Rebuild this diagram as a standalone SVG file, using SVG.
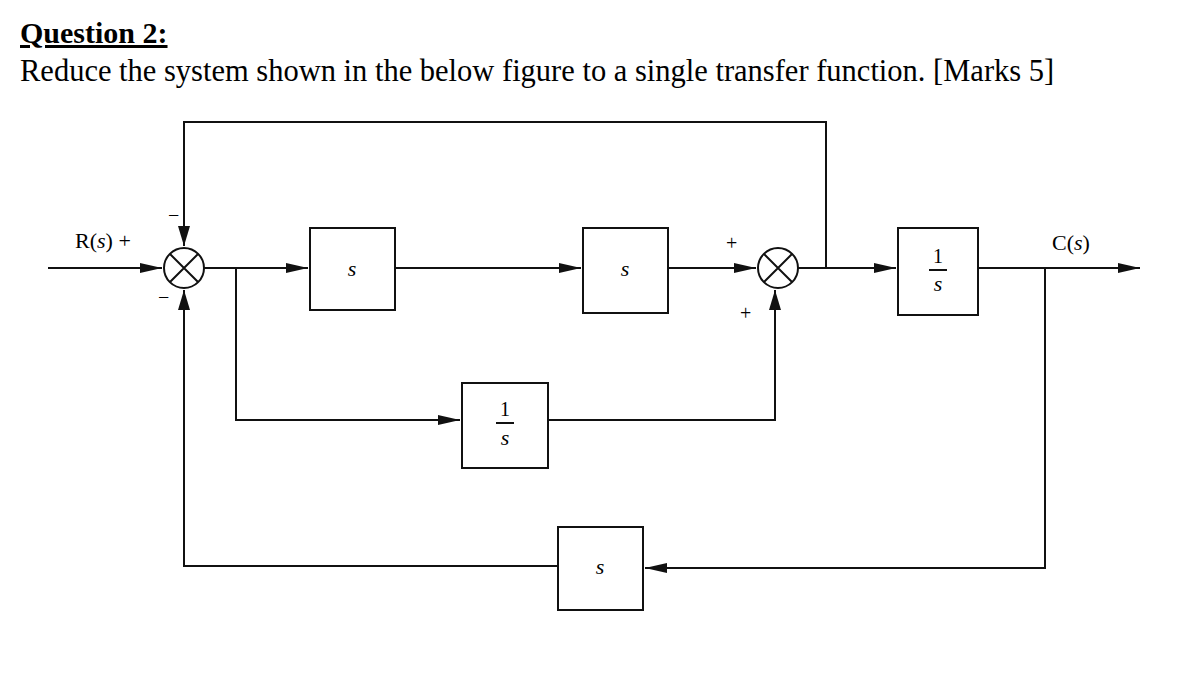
<svg xmlns="http://www.w3.org/2000/svg" width="1188" height="680" viewBox="0 0 1188 680">
<style>
text{font-family:"Liberation Serif",serif;fill:#000}
.b{fill:#fff;stroke:#111;stroke-width:2}
.l{fill:none;stroke:#111;stroke-width:2}
.v{font-style:italic;font-size:22px}
.s{font-size:20px}
</style>
<defs><marker id="a" markerWidth="20" markerHeight="12" refX="20" refY="6" orient="auto" markerUnits="userSpaceOnUse" viewBox="0 0 20 12"><path d="M0,0 L20,6 L0,12 Z" fill="#111"/></marker>
<marker id="A" markerWidth="22" markerHeight="10" refX="22" refY="5" orient="auto" markerUnits="userSpaceOnUse" viewBox="0 0 22 10"><path d="M0,0 L22,5 L0,10 Z" fill="#111"/></marker></defs>
<rect width="1188" height="680" fill="#fff"/>
<text x="20" y="43" font-size="30" font-weight="bold" text-decoration="underline">Question 2:</text>
<text x="20" y="81" font-size="30.5">Reduce the system shown in the below figure to a single transfer function. [Marks 5]</text>
<g id="connectors">
<path class="l" d="M48,268 H162" marker-end="url(#A)"/>
<path class="l" d="M204,268 H308" marker-end="url(#A)"/>
<path class="l" d="M395,268 H581" marker-end="url(#A)"/>
<path class="l" d="M668,268 H756" marker-end="url(#A)"/>
<path class="l" d="M798,268 H896" marker-end="url(#A)"/>
<path class="l" d="M978,268 H1140" marker-end="url(#A)"/>
<path class="l" d="M826,268 V122 H184 V246" marker-end="url(#a)"/>
<path class="l" d="M236,268 V420 H460" marker-end="url(#A)"/>
<path class="l" d="M548,420 H775 V290" marker-end="url(#a)"/>
<path class="l" d="M1045,268 V568 H645" marker-end="url(#A)"/>
<path class="l" d="M558,566 H184 V290" marker-end="url(#a)"/>
</g>
<g id="sum1"><circle class="b" cx="184" cy="268" r="20"/><path class="l" d="M170,254 L198,282 M198,254 L170,282"/></g>
<g id="sum2"><circle class="b" cx="778" cy="268" r="20"/><path class="l" d="M764,254 L792,282 M792,254 L764,282"/></g>
<g id="b1"><rect class="b" x="310" y="228" width="85" height="82"/><text class="v" x="352" y="276" text-anchor="middle">s</text></g>
<g id="b2"><rect class="b" x="583" y="228" width="85" height="85"/><text class="v" x="625" y="276" text-anchor="middle">s</text></g>
<g id="b3"><rect class="b" x="898" y="228" width="80" height="87"/><text class="s" x="938" y="263" text-anchor="middle">1</text><path class="l" d="M929,270 H947"/><text class="v" x="938" y="291" text-anchor="middle">s</text></g>
<g id="b4"><rect class="b" x="462" y="383" width="86" height="85"/><text class="s" x="505" y="416" text-anchor="middle">1</text><path class="l" d="M496,423 H514"/><text class="v" x="505" y="445" text-anchor="middle">s</text></g>
<g id="b5"><rect class="b" x="558" y="527" width="85" height="83"/><text class="v" x="600" y="574" text-anchor="middle">s</text></g>
<text x="75" y="248" font-size="22">R(<tspan font-style="italic">s</tspan>) +</text>
<text x="1052" y="250" font-size="22">C(<tspan font-style="italic">s</tspan>)</text>
<text class="s" x="168" y="222">−</text>
<text class="s" x="158" y="304">−</text>
<text class="s" x="726" y="250">+</text>
<text class="s" x="740" y="320">+</text>
</svg>
